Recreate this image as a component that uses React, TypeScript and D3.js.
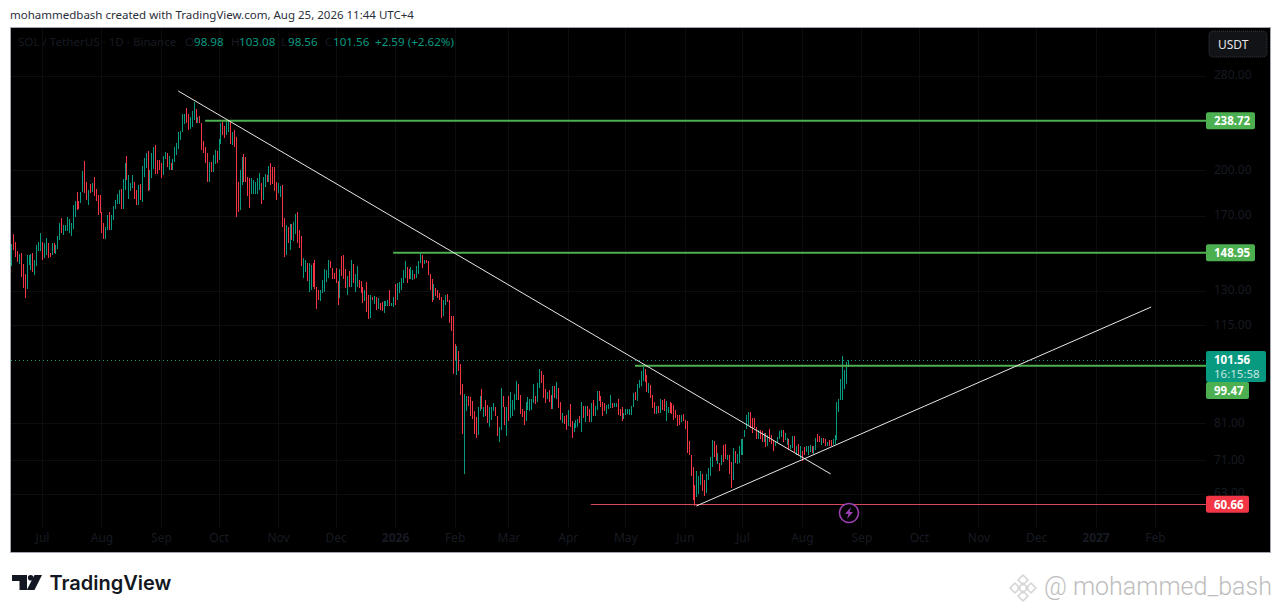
import { useEffect, useRef } from "react";
import * as d3 from "d3";

type Bar = [number, number]; // open, close

// Jun 15 2025 -> the autumn top
const barsToTop: Bar[] = [
  [142,153.5],[159,150.5],[155,146.5],[150,144],[143,148.5],[149,136.5],[143,131.5],[138,126.5],[131,147.5],[142.5,147.5],
  [140,148.5],[149,139],[137.5,145],[142,153],[150,155],[150,160],[155,145],[146,154.5],[148,157],[154,146],
  [149,146.5],[147.5,154],[154,149],[148.5,153],[151,158],[156,165.5],[168.5,160],[158.5,164.5],[161,164.5],[161,169.5],
  [160,168],[158,165.5],[162,176.5],[169.5,179],[185,173.5],[179.5,174],[178,185],[185,199.5],[207,184.5],[192,180],
  [176.5,186.5],[190.5,184.5],[185,191],[195.5,182.5],[187,179],[183,170.5],[183,171.5],[172.5,160],[165.5,156.5],[156.5,163.5],
  [161.5,170.5],[172.5,161.5],[161.5,170.5],[167.5,176],[174,180],[177,184],[177,186.5],[187,174],[174,194],[186.5,205],
  [210.5,193],[180.5,196.5],[186,191],[187.5,196.5],[191.5,180.5],[186.5,176.5],[176.5,190],[190.5,180],[178.5,203],[195,209],
  [201.5,213],[214,186],[186.5,200],[194.5,213],[201,217.5],[219,197.5],[207.5,197.5],[207.5,200],[205,194.5],[196.5,210.5],
  [208.5,213.5],[212.5,202.5],[200.5,210.5],[205,200],[200,208],[206,217.5],[211,220.5],[216,229],[223,230],[229,244.5],
  [236,244.5],[249.5,236.5],[244.5,231],[232,241.5],[233,247.5],[239.5,255],
];

// slide through the new year
const barsFromTop: Bar[] = [
  [248.5,236.5],[237,242],[242.5,236.5],[237,215],[222,212.5],[217.5,205.5],[213,191.5],[191.5,206],[206,199],[199,211],
  [204.5,215],[214.5,205.5],[207.5,223.5],[220,236.5],[238,227],[234,224.5],[227,239],[229.5,239],[238,220],[218.5,229.5],
  [230.5,217.5],[225.5,169.5],[192,172.5],[173.5,200],[190,210],[212,191.5],[210,192],[195,182.5],[194.5,175],[184,194.5],
  [184,193],[184,192],[183.5,194.5],[186.5,198],[191,177.5],[180,195],[188.5,197],[196.5,192],[192,203],[205.5,190],
  [202,190.5],[202,185.5],[191.5,180],[184.5,191],[182,189],[190,163.5],[168.5,146.5],[147.5,164.5],[163.5,154],[150.5,165],
  [165,156],[155.5,166.5],[159.5,171],[172.5,154],[161.5,151.5],[158,142],[136,146],[139,145],[143.5,134.5],[129.5,143.5],
  [130.5,142.5],[143.5,132],[145,131],[132,122],[130.5,126],
];

// Nov to Feb, the bounce to 148.95 and the breakdown
const barsToBreak: Bar[] = [
  [125.5,130.5],[129,135],[129.5,140.5],[134,140],[136,145],[144.5,141],[141,135.5],[138.5,135.5],[141,133.5],[134.5,123.5],
  [126.5,140.5],[147,137],[147.5,135.5],[140.5,131.5],[128,137],[139.5,132],[132,145],[143,133.5],[129.5,138],[132,142],
  [135,131.5],[134.5,129],[132,124.5],[125.5,130.5],[134,120.5],[128,117.5],[118,128],[127,126],[124,127.5],[127,121.5],
  [122,126.5],[124.5,121.5],[125,121],[120,125.5],[123,125.5],[123,126],[130.5,123],[123,124.5],[122.5,127],[133,123.5],
  [126,133.5],[129,134],[130.5,136],[133.5,140],[136,144.5],[141.5,133.5],[140.5,135.5],[135.5,141.5],[135,140],[138,135.5],
  [136,142],[138,144.5],[143.5,149],[147.5,141],[143,145],[145,143.5],[144.5,137.5],[138,130.5],[135.5,125],[126,133],
  [131.5,127.5],[130.5,126.5],[129,126],[127,118],[119,126],[123.5,128],[128.5,125],[126,116],[119,112.5],[119,96.6],
];

// Feb to May range
const barsRange: Bar[] = [
  [107.5,101.5],[96.3,106.8],[105,97.6],[100,89.6],[93.3,78],[67.7,90],[84.5,89.4],[89.4,86.2],[89,83.2],[87.7,82.2],
  [84.7,78.1],[82.8,77],[77.6,86],[84.5,89.4],[91.6,85.2],[82.8,86],[88,83.2],[86.5,81],[80,85.8],[82,86],
  [84.5,87],[86,83],[83,77.3],[75.8,80],[79,92],[89.2,86],[86,80.5],[77.3,86],[89.4,81.8],[82.5,90.5],
  [83,88],[85,90],[88,94.2],[93.2,88],[89.7,83.8],[85.2,82.8],[84.5,80.5],[81.7,87.5],[85,89],[84.7,88.5],
  [85,88.3],[87,93.2],[89.2,86.8],[87.5,93.5],[91.8,98.2],[97.7,93.5],[96.2,88.6],[91.6,87],[88.3,90.7],[91.2,87.5],
  [89.7,85.2],[85.2,92.5],[92.5,88.8],[88.5,93.8],[92,85.5],[87.3,82],[81,84],[83.2,80.8],[83.5,79],[80.2,85],
  [86.8,80],[81.8,77],[78.6,81],[79.8,82],[80,82.2],[83.2,81.2],[78.6,87.3],[86.2,82.7],[81.5,86.2],[86.2,83],
  [85.2,81.5],[81.5,87],[88,83],[83,86.2],[85,91],[91,87.7],[89.2,86],[87.5,83.2],[87,84.5],[83.8,86.5],
  [85.2,86.8],[85.5,89.7],[87,85.5],[85.8,87],[86,87.2],[88.5,83.5],[85.2,83],[85.8,81.8],[82.2,84],[83.5,85.2],
  [83.8,85.2],[83.5,85.2],[83.5,86.2],[86,90.2],[90.7,88],[87.7,93.2],[91.8,94.5],[92.5,97.7],[94.3,99],[98.5,93.8],
  [96.3,90.7],[90.2,93.5],[92.8,88.6],[89.7,85.5],[87.5,83.8],[83.8,86.2],[86.2,84],[84,88.5],[88,85],[88.5,84.5],
  [81.8,87.8],[84,86],
];

// May low, June bottom and the August rally
const barsToLast: Bar[] = [
  [87.3,84],[87,83.8],[86.5,82],[85,82.5],[83.3,80.2],[83.3,80.5],[81.5,83.5],[83.8,81.7],[82,79.5],[81.7,72.8],
  [76,72.3],[72.3,67],[69.2,61.6],[65,60.3],[62.3,68.2],[63,67],[65,68.3],[67.7,63.6],[66.1,62.5],[63.2,67.5],
  [66.1,69],[67,71.7],[69.4,76.3],[76.1,71.9],[75,70.8],[70,72.8],[70.3,68.2],[69.8,72.3],[75,70.5],[75.3,71.4],
  [71,72.3],[72.3,67.7],[70.5,64.3],[66.1,74.1],[73.4,70.3],[70,72.5],[70.2,74.6],[72.3,76.5],[72.3,76.6],[77.2,79.1],
  [79.5,83.5],[80.5,84.2],[84.2,79.6],[82.5,78.2],[82.5,79.6],[80,76.6],[76.7,79.1],[79.1,76.7],[78.9,75.9],[75.9,78.2],
  [78.2,74.4],[74.6,77.7],[79.3,75.9],[77.7,75.2],[76.3,73.5],[74.6,75.9],[75.4,77.2],[76.7,78.9],[77.2,79.1],[79.1,75.9],
  [76.3,78.2],[75,77],[76.5,73.6],[73.9,75],[74.2,77.4],[77.4,73.2],[72.3,74.6],[75.3,72.3],[71.4,74.6],[73.4,70.8],
  [74.4,72.3],[73.2,74.8],[72.3,74.8],[73.2,74.9],[74.8,72.8],[72.6,74.8],[73.6,76.9],[77.9,75.9],[77.4,75.9],[75,77],
  [77,75.4],[76.7,74.8],[74.8,75.9],[76.3,74.6],[76.3,74.8],[75,76.5],[75.2,77.7],[76.3,87.5],[84.2,88.2],[88,95],
  [88,103],[91.6,98],[93.3,101],[98.98,101.56],
];

const bars: Bar[] = [...barsToTop, ...barsFromTop, ...barsToBreak, ...barsRange, ...barsToLast];

const priceTicks = [280, 200, 170, 130, 115, 81, 71, 63];
const monthTicks = ["2025-07-01", "2025-08-01", "2025-09-01", "2025-10-01", "2025-11-01", "2025-12-01", "2026-01-01", "2026-02-01", "2026-03-01", "2026-04-01", "2026-05-01", "2026-06-01", "2026-07-01", "2026-08-01", "2026-09-01", "2026-10-01", "2026-11-01", "2026-12-01", "2027-01-01", "2027-02-01"];

const levelPrices = [238.72, 148.95, 99.47];
const levelStarts = ["2025-09-24", "2025-12-31", "2026-05-06"];
const supportPrice = 60.66;
const supportStart = "2026-04-13";
const lastPrice = 101.56;
const lastDate = "2026-08-25";

const trendDates = [["2025-09-10", "2026-08-16"], ["2026-06-07", "2027-01-30"]];
const trendPrices = [[265.4, 67.6], [60.3, 122.7]];

const UP = "#089981";
const DOWN = "#F23645";
const LEVEL = "#4CAF50";
const FAINT = "#171a22";
const FONT = "'Noto Sans', sans-serif";

const day = (s: string) => new Date(s + "T00:00:00Z");

export default function App() {
  const svgRef = useRef<SVGSVGElement>(null);

  useEffect(() => {
    if (!svgRef.current) return;
    const svg = d3.select(svgRef.current);
    svg.selectAll("*").remove();

    const x = d3.scaleUtc().domain([day("2025-07-01"), day("2027-02-01")]).range([42, 1155]);
    const y = d3.scaleLog().domain([280, 60.66]).range([76, 504.3]);

    const left = 11;
    const right = 1206;
    const top = 28;

    // Page header
    svg.append("text")
      .attr("x", 10).attr("y", 19)
      .attr("font-family", FONT).attr("font-size", 11.5).attr("fill", "#2a2e39")
      .text("mohammedbash created with TradingView.com, Aug 25, 2026 11:44 UTC+4");

    // Pane
    svg.append("rect")
      .attr("x", 10.5).attr("y", 27.5).attr("width", 1260).attr("height", 525)
      .attr("fill", "#000").attr("stroke", "#a3a6af");

    // Grid
    const grid = svg.append("g").attr("stroke", "#0b0d11");
    grid.selectAll("line.h").data(priceTicks).enter().append("line")
      .attr("class", "h").attr("x1", left).attr("x2", right)
      .attr("y1", (d) => Math.round(y(d)) + 0.5).attr("y2", (d) => Math.round(y(d)) + 0.5);
    grid.selectAll("line.v").data(monthTicks).enter().append("line")
      .attr("class", "v").attr("y1", top).attr("y2", 528)
      .attr("x1", (d) => Math.round(x(day(d))) + 0.5).attr("x2", (d) => Math.round(x(day(d))) + 0.5);

    // Axes
    svg.append("g")
      .attr("transform", "translate(1214,-1)")
      .call(d3.axisRight(y).tickValues(priceTicks).tickSize(0).tickPadding(0).tickFormat((d) => (d as number).toFixed(2)))
      .call((g) => g.select(".domain").remove())
      .call((g) => g.selectAll("text").attr("fill", FAINT).attr("font-family", FONT).attr("font-size", 12));

    svg.append("g")
      .attr("transform", "translate(0,533)")
      .call(
        d3.axisBottom(x)
          .tickValues(monthTicks.map(day))
          .tickSize(0).tickPadding(0)
          .tickFormat((d) => {
            const date = d as Date;
            return date.getUTCMonth() === 0 ? d3.utcFormat("%Y")(date) : d3.utcFormat("%b")(date);
          })
      )
      .call((g) => g.select(".domain").remove())
      .call((g) =>
        g.selectAll<SVGTextElement, Date>("text")
          .attr("fill", FAINT).attr("font-family", FONT).attr("font-size", 12)
          .attr("font-weight", (d) => (d.getUTCMonth() === 0 ? 700 : 400))
      );

    // Last price line
    svg.append("line")
      .attr("x1", left).attr("x2", right)
      .attr("y1", Math.round(y(lastPrice)) + 0.5).attr("y2", Math.round(y(lastPrice)) + 0.5)
      .attr("stroke", UP).attr("stroke-dasharray", "1,3");

    // Bars
    const firstDay = d3.utcDay.offset(day(lastDate), 1 - bars.length);
    svg.append("g")
      .attr("shape-rendering", "crispEdges")
      .selectAll("rect")
      .data(bars)
      .enter()
      .append("rect")
      .attr("x", (_, i) => Math.round(x(d3.utcDay.offset(firstDay, i))))
      .attr("y", (d) => y(Math.max(d[0], d[1])))
      .attr("width", 1)
      .attr("height", (d) => Math.max(1, y(Math.min(d[0], d[1])) - y(Math.max(d[0], d[1]))))
      .attr("fill", (d) => (d[1] >= d[0] ? UP : DOWN));

    // Support line
    svg.append("line")
      .attr("x1", x(day(supportStart))).attr("x2", right)
      .attr("y1", Math.round(y(supportPrice)) + 0.5).attr("y2", Math.round(y(supportPrice)) + 0.5)
      .attr("stroke", "#d8475a");

    // Levels
    svg.selectAll("line.level").data(levelPrices).enter().append("line")
      .attr("class", "level")
      .attr("x1", (_, i) => x(day(levelStarts[i]))).attr("x2", right)
      .attr("y1", (d) => y(d)).attr("y2", (d) => y(d))
      .attr("stroke", LEVEL).attr("stroke-width", 2);

    // Trend lines
    svg.selectAll("line.trend").data(trendDates).enter().append("line")
      .attr("class", "trend")
      .attr("x1", (d) => x(day(d[0]))).attr("x2", (d) => x(day(d[1])))
      .attr("y1", (_, i) => y(trendPrices[i][0])).attr("y2", (_, i) => y(trendPrices[i][1]))
      .attr("stroke", "#e8e8e8").attr("stroke-width", 1);

    // Legend
    const legend = svg.append("g").attr("font-family", FONT).attr("font-size", 11.6);
    const legendText = (tx: number, fill: string, s: string) =>
      legend.append("text").attr("x", tx).attr("y", 46).attr("fill", fill).text(s);
    legendText(18, FAINT, "SOL / TetherUS · 1D · Binance");
    const legendNames = ["O", "H", "L", "C"];
    const legendValues = ["98.98", "103.08", "98.56", "101.56"];
    const legendNameX = [185, 231, 281, 325];
    const legendValueX = [194, 239, 288, 333];
    legendNames.forEach((name, i) => {
      legendText(legendNameX[i], FAINT, name);
      legendText(legendValueX[i], UP, legendValues[i]);
    });
    legendText(375, UP, "+2.59 (+2.62%)");

    // Currency button
    svg.append("rect")
      .attr("x", 1209).attr("y", 31).attr("width", 58).attr("height", 26).attr("rx", 4)
      .attr("fill", "#121317").attr("stroke", "#3a3d45").attr("stroke-dasharray", "1,1");
    svg.append("text")
      .attr("x", 1218).attr("y", 49)
      .attr("font-family", FONT).attr("font-size", 12).attr("fill", "#e6e6e6")
      .text("USDT");

    // Price labels
    const labelPrices = [238.72, 148.95, 99.47, supportPrice];
    const labelColors = [LEVEL, LEVEL, LEVEL, DOWN];
    const labelWidths = [49, 49, 43, 43];
    labelPrices.forEach((p, i) => {
      const c = y(p);
      const mid = i === 2 ? 390.5 : c;
      svg.append("rect")
        .attr("x", 1206).attr("y", mid - 8.5).attr("width", labelWidths[i]).attr("height", 17).attr("rx", 2)
        .attr("fill", labelColors[i]);
      svg.append("text")
        .attr("x", 1214).attr("y", mid + 4.5)
        .attr("font-family", FONT).attr("font-size", 11.5).attr("font-weight", 700).attr("fill", "#fff")
        .text(p.toFixed(2));
    });
    svg.append("rect")
      .attr("x", 1206).attr("y", 351).attr("width", 60).attr("height", 31).attr("rx", 2)
      .attr("fill", UP);
    svg.append("text")
      .attr("x", 1214).attr("y", 364)
      .attr("font-family", FONT).attr("font-size", 11.5).attr("font-weight", 700).attr("fill", "#fff")
      .text(lastPrice.toFixed(2));
    svg.append("text")
      .attr("x", 1214).attr("y", 378)
      .attr("font-family", FONT).attr("font-size", 11.5).attr("fill", "#c6e8e0")
      .text("16:15:58");

    // Event marker
    const marker = svg.append("g").attr("transform", "translate(849,513)");
    marker.append("circle").attr("r", 9.5).attr("fill", "#000").attr("stroke", "#9c3fb0").attr("stroke-width", 1.6);
    marker.append("path").attr("d", "M2,-6 L-4,1 L-0.5,1 L-2,6 L4,-1 L0.5,-1 Z").attr("fill", "#9c3fb0");

    // TradingView logo
    const logo = svg.append("g").attr("fill", "#131722");
    logo.append("path").attr("d", "M12,575 H27 V590 H19.5 V581 H12 Z");
    logo.append("circle").attr("cx", 30.7).attr("cy", 577.8).attr("r", 2.8);
    logo.append("path").attr("d", "M34.5,575 H42 L34.5,590 H26.8 Z");
    logo.append("text")
      .attr("x", 49.5).attr("y", 589.5)
      .attr("font-family", "Inter, sans-serif").attr("font-size", 20).attr("font-weight", 600)
      .text("TradingView");

    // Watermark
    const mark = svg.append("g").attr("transform", "translate(1023,588)").attr("fill", "none").attr("stroke", "#d6d6d6").attr("stroke-width", 1.6);
    [[0, -8], [-8, 0], [8, 0], [0, 8], [0, 0]].forEach(([dx, dy]) => {
      mark.append("rect").attr("x", dx - 3.5).attr("y", dy - 3.5).attr("width", 7).attr("height", 7)
        .attr("transform", `rotate(45 ${dx} ${dy})`);
    });
    svg.append("text")
      .attr("x", 1044).attr("y", 595)
      .attr("font-family", "Roboto, sans-serif").attr("font-size", 25).attr("font-weight", 300).attr("fill", "#bdbdbd")
      .text("@ mohammed_bash");
  }, []);

  return (
    <>
      <style>{"body{margin:0;background:#fff}"}</style>
      <svg ref={svgRef} width={1281} height={613} style={{ display: "block" }} />
    </>
  );
}
